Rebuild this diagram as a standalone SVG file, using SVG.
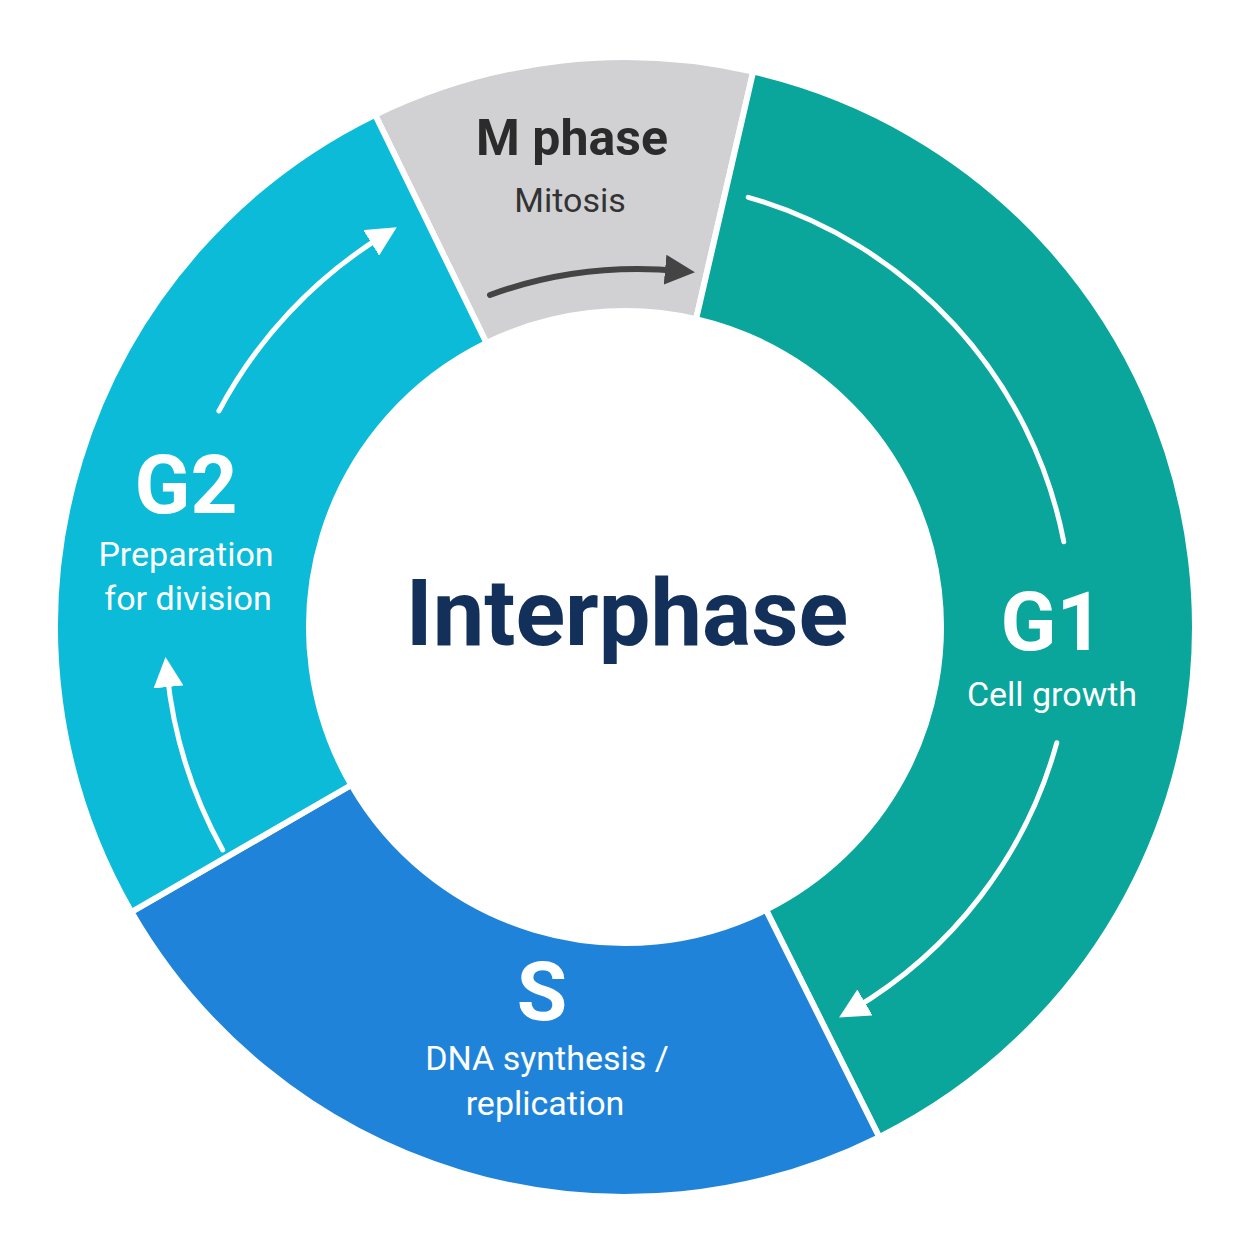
<svg xmlns="http://www.w3.org/2000/svg" width="1254" height="1254" viewBox="0 0 1254 1254">
<style>
.seg{stroke:#fff;stroke-width:6;stroke-linejoin:miter}
.t{font-family:Roboto,"Liberation Sans",sans-serif;text-anchor:middle}
.big{font-weight:bold;font-size:82px;fill:#fff}
.sub{font-size:34px;fill:#fff}
.arr{fill:none;stroke:#fff;stroke-width:5;stroke-linecap:round}
</style>
<defs>
<marker id="wh" viewBox="0 0 10 10" refX="5" refY="5" markerWidth="6" markerHeight="6" orient="auto" markerUnits="strokeWidth"><path d="M0,0 L10,5 L0,10 Z" fill="#fff"/></marker>
<marker id="dk" viewBox="0 0 10 10" refX="5" refY="5" markerWidth="5" markerHeight="5" orient="auto" markerUnits="strokeWidth"><path d="M0,0 L10,5 L0,10 Z" fill="#444"/></marker>
</defs>
<rect width="1254" height="1254" fill="#fff"/>
<g id="M">
<path class="seg" fill="#d1d1d3" d="M375.1,114.7 A570,570 0 0 1 753.2,71.6 L696.1,319.1 A316,316 0 0 0 486.5,343 Z"/>
<text class="t" x="572" y="155" font-size="50" font-weight="bold" fill="#2b2b2b">M phase</text>
<text class="t" x="570" y="212" font-size="34" fill="#333">Mitosis</text>
</g>
<g id="G1">
<path class="seg" fill="#0aa59b" d="M753.2,71.6 A570,570 0 0 1 879.3,1137.1 L766,909.8 A316,316 0 0 0 696.1,319.1 Z"/>
<text class="t big" x="1052" y="650">G1</text>
<text class="t sub" x="1052" y="706">Cell growth</text>
</g>
<g id="S">
<path class="seg" fill="#1f84d9" d="M879.3,1137.1 A570,570 0 0 1 131.4,912 L351.3,785 A316,316 0 0 0 766,909.8 Z"/>
<text class="t big" x="542" y="1020">S</text>
<text class="t sub" x="547" y="1070">DNA synthesis /</text>
<text class="t sub" x="545" y="1115">replication</text>
</g>
<g id="G2">
<path class="seg" fill="#0bbbd8" d="M131.4,912 A570,570 0 0 1 375.1,114.7 L486.5,343 A316,316 0 0 0 351.3,785 Z"/>
<text class="t big" x="186" y="513">G2</text>
<text class="t sub" x="186" y="566">Preparation</text>
<text class="t sub" x="188" y="610">for division</text>
</g>
<g id="center">
<text class="t" x="627" y="645" font-size="92" font-weight="bold" fill="#12305a">Interphase</text>
</g>
<g id="connectors">
<path class="arr" d="M748.2,197.3 A447,447 0 0 1 1063.8,541.7"/>
<path class="arr" marker-end="url(#wh)" d="M1056.8,742.7 A447,447 0 0 1 852,1010"/>
<path class="arr" marker-end="url(#wh)" d="M222.7,850 A460,460 0 0 1 167,672"/>
<path class="arr" marker-end="url(#wh)" d="M218.9,411 A460,460 0 0 1 384,235"/>
<path fill="none" stroke="#444" stroke-width="6" stroke-linecap="round" marker-end="url(#dk)" d="M490,295 Q580,262 680,271"/>
</g>
</svg>
